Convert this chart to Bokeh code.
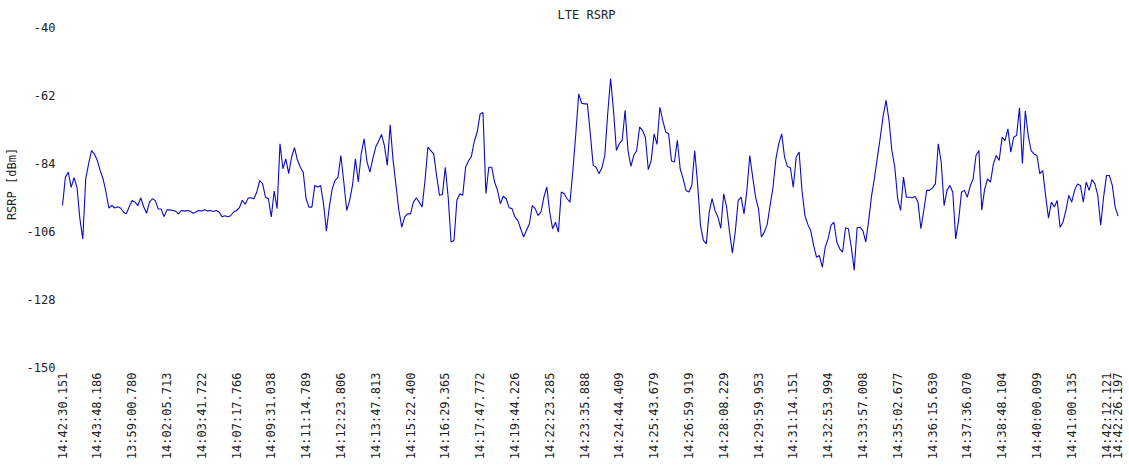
import math
from bokeh.plotting import figure
from bokeh.models import Range1d, FixedTicker, Label, ColumnDataSource
from bokeh.embed import file_html
from bokeh.resources import INLINE

title_text = "LTE RSRP"
y_axis_title = "RSRP [dBm]"

y_ticks = [-150, -128, -106, -84, -62, -40]
y_tick_labels = ["-150", "-128", "-106", "-84", "-62", "-40"]

x_tick_index = [0, 12, 24, 36, 48, 60, 72, 84, 96, 108, 120, 132, 144, 156, 168,
                180, 192, 204, 216, 228, 240, 252, 264, 276, 288, 300, 312, 324,
                336, 348, 360, 364]
x_tick_labels = ["14:42:30.151", "14:43:48.186", "13:59:00.780", "14:02:05.713",
                 "14:03:41.722", "14:07:17.766", "14:09:31.038", "14:11:14.789",
                 "14:12:23.806", "14:13:47.813", "14:15:22.400", "14:16:29.365",
                 "14:17:47.772", "14:19:44.226", "14:22:23.285", "14:23:35.888",
                 "14:24:44.409", "14:25:43.679", "14:26:59.919", "14:28:08.229",
                 "14:29:59.953", "14:31:14.151", "14:32:53.994", "14:33:57.008",
                 "14:35:02.677", "14:36:15.630", "14:37:36.070", "14:38:48.104",
                 "14:40:00.099", "14:41:00.135", "14:42:12.121", "14:42:26.197"]

rsrp = [
    -97.6, -88.4, -86.8, -91.7, -88.6, -91.7, -101.9, -108.4, -89.0, -84.1,
    -79.8, -80.9, -83.0, -86.3, -89.0, -93.3, -98.4, -97.6, -98.4, -98.0,
    -98.4, -99.7, -100.3, -98.0, -96.0, -96.5, -97.6, -95.1, -98.0, -100.1,
    -96.5, -95.4, -96.0, -98.7, -98.7, -101.2, -99.0, -99.0, -99.2, -99.4,
    -100.3, -99.2, -99.4, -99.2, -99.4, -100.1, -99.7, -99.2, -99.4, -99.0,
    -99.4, -99.2, -99.5, -99.2, -99.7, -101.2, -100.9, -101.2, -100.9, -99.7,
    -99.2, -98.3, -95.9, -97.2, -95.2, -95.1, -95.4, -93.2, -89.5, -90.6,
    -94.9, -95.4, -101.3, -92.9, -98.6, -77.6, -85.7, -82.5, -87.3, -81.9,
    -78.9, -82.8, -85.2, -86.8, -95.4, -98.1, -98.1, -91.1, -91.6, -91.1,
    -97.0, -105.9, -98.1, -92.2, -89.5, -88.4, -81.4, -90.0, -99.2, -96.0,
    -91.1, -82.5, -90.0, -80.9, -76.0, -83.5, -86.8, -82.5, -78.7, -76.8,
    -74.6, -78.2, -84.6, -71.5, -83.0, -91.1, -99.2, -104.6, -101.3, -100.3,
    -100.3, -96.5, -95.1, -96.5, -98.1, -89.5, -78.7, -79.8, -80.9, -87.9,
    -94.3, -94.0, -85.2, -94.9, -109.4, -108.9, -95.9, -93.8, -94.3, -85.2,
    -83.2, -81.7, -76.8, -73.8, -68.0, -67.5, -93.8, -85.2, -85.2, -90.0,
    -92.7, -97.0, -94.6, -95.4, -98.3, -98.6, -101.3, -102.4, -105.1, -107.8,
    -105.6, -103.5, -97.6, -98.6, -100.8, -99.7, -94.9, -91.6, -99.7, -105.1,
    -103.0, -106.2, -93.2, -93.8, -95.4, -96.5, -86.2, -74.4, -61.5, -64.5,
    -64.7, -64.7, -74.4, -84.6, -85.2, -87.3, -85.4, -81.4, -67.9, -56.5,
    -66.8, -79.8, -77.6, -76.5, -66.8, -79.8, -84.9, -81.4, -79.8, -72.2,
    -73.3, -75.5, -86.0, -83.0, -74.4, -77.8, -65.8, -70.1, -73.8, -74.4,
    -83.2, -83.5, -76.5, -85.7, -88.9, -92.7, -93.2, -91.1, -79.8, -90.6,
    -104.0, -108.9, -110.0, -99.7, -95.4, -99.2, -101.3, -105.0, -93.8, -98.1,
    -106.0, -113.0, -106.0, -95.9, -94.9, -100.3, -92.7, -81.4, -88.4, -94.9,
    -98.7, -107.8, -106.2, -103.7, -97.6, -91.7, -82.5, -77.6, -74.4, -82.0,
    -85.0, -85.4, -91.7, -82.0, -80.3, -92.7, -100.8, -103.7, -105.7, -110.5,
    -114.3, -113.8, -117.5, -111.1, -108.4, -104.0, -103.0, -109.4, -111.6, -112.7,
    -104.8, -105.1, -111.1, -118.5, -104.8, -104.6, -105.7, -109.4, -102.4, -94.4,
    -88.6, -82.0, -75.5, -68.5, -63.6, -70.1, -79.8, -85.2, -95.4, -99.2,
    -88.4, -94.9, -94.9, -95.1, -94.7, -96.5, -105.1, -99.2, -92.7, -92.7,
    -91.9, -90.6, -77.6, -83.6, -97.6, -92.7, -91.1, -93.3, -108.4, -102.4,
    -93.3, -92.7, -94.9, -91.3, -89.0, -81.4, -79.8, -99.0, -92.2, -89.0,
    -90.0, -84.1, -81.4, -83.0, -75.5, -76.6, -72.8, -80.3, -75.5, -74.9,
    -66.0, -84.0, -67.0, -74.9, -79.8, -80.9, -81.4, -87.3, -86.3, -94.3,
    -101.7, -96.5, -98.1, -96.0, -104.6, -103.0, -99.2, -94.3, -96.5, -92.7,
    -90.6, -91.1, -96.5, -90.0, -92.7, -89.2, -90.6, -94.3, -104.0, -94.9,
    -87.9, -87.9, -91.1, -98.1, -101.0,
]

sample_index = list(range(len(rsrp)))

FONT = "DejaVu Sans Mono"
TXT = "#222222"

W, H = 1129, 469
frame_left = 58
frame_bottom_px = 367
px_per_sample = 2.9
x_start = -(62 - frame_left) / px_per_sample
x_end = x_start + (W - frame_left) / px_per_sample
px_per_db = 340 / 110
y_end = -40 + 27 / px_per_db

p = figure(width=W, height=H, output_backend="svg", toolbar_location=None,
           x_range=Range1d(x_start, x_end), y_range=Range1d(-150, y_end),
           min_border_left=frame_left, min_border_right=0, min_border_top=0,
           min_border_bottom=H - frame_bottom_px, title=None)
p.outline_line_color = None
p.grid.visible = False
p.background_fill_color = "white"
p.border_fill_color = "white"

src = ColumnDataSource(data=dict(x=sample_index, y=rsrp))
p.line("x", "y", source=src, line_color="#0b0bc4", line_width=1.1)

xa = p.xaxis[0]
xa.ticker = FixedTicker(ticks=x_tick_index)
xa.major_label_overrides = {i: s for i, s in zip(x_tick_index, x_tick_labels)}
xa.major_label_orientation = math.pi / 2
xa.major_label_standoff = 5
xa.major_tick_in = 0
xa.major_tick_out = 0
xa.minor_tick_line_color = None
xa.major_tick_line_color = None
xa.axis_line_color = None
xa.major_label_text_font = FONT
xa.major_label_text_font_size = "12px"
xa.major_label_text_color = TXT

ya = p.yaxis[0]
ya.ticker = FixedTicker(ticks=y_ticks)
ya.major_label_overrides = {v: s for v, s in zip(y_ticks, y_tick_labels)}
ya.major_label_standoff = 3
ya.major_tick_in = 0
ya.major_tick_out = 0
ya.minor_tick_line_color = None
ya.major_tick_line_color = None
ya.axis_line_color = None
ya.major_label_text_font = FONT
ya.major_label_text_font_size = "12px"
ya.major_label_text_color = TXT
ya.axis_label = y_axis_title
ya.axis_label_text_font = FONT
ya.axis_label_text_font_size = "12px"
ya.axis_label_text_font_style = "normal"
ya.axis_label_text_color = TXT
ya.axis_label_standoff = 5

title_x = (586 - 62) / px_per_sample
title_y = -40 + (27 - 14) / px_per_db
p.add_layout(Label(x=title_x, y=title_y, text=title_text, text_align="center",
                   text_baseline="middle", text_font=FONT, text_font_size="12px",
                   text_color=TXT))

open("out.html", "w").write(file_html(p, INLINE))
